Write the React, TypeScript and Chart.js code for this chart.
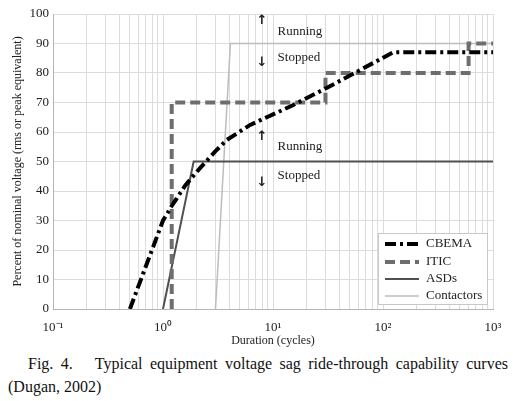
import { useEffect, useRef } from 'react';
import { Chart, registerables } from 'chart.js';
Chart.register(...registerables);

// curves (x in cycles, y in % of nominal)
const cbemaX = [0.5, 1.0, 1.08, 1.2, 1.34, 1.6, 2.2, 3.0, 3.8, 6.2, 15, 31, 62, 123, 1000];
const cbemaY = [0, 30, 32, 35, 37.6, 42, 48, 53.5, 57.3, 62.4, 69, 75, 81, 87, 87];
const iticX = [1.2, 1.2, 30, 30, 600, 600, 1000];
const iticY = [0, 70, 70, 80, 80, 90, 90];
const asdX = [1.0, 1.9, 1000];
const asdY = [0, 50, 50];
const contX = [3.0, 4.1, 1000];
const contY = [0, 90, 90];

const xTicks = [
  0.1, 0.2, 0.3, 0.4, 0.5, 0.6, 0.7, 0.8, 0.9,
  1, 2, 3, 4, 5, 6, 7, 8, 9,
  10, 20, 30, 40, 50, 60, 70, 80, 90,
  100, 200, 300, 400, 500, 600, 700, 800, 900,
  1000,
];
const majorTicks = [0.1, 1, 10, 100, 1000];
const majorLabels = ['10⁻¹', '10⁰', '10¹', '10²', '10³'];

// Running / Stopped notes
const noteX = [7.95, 11, 11, 7.95, 7.95, 11, 11, 7.95];
const noteY = [97.6, 94.2, 85.3, 83.6, 58.3, 55.0, 45.2, 42.9];
const noteText = ['↑', 'Running', 'Stopped', '↓', '↑', 'Running', 'Stopped', '↓'];

const FONT = '"Liberation Serif", "Times New Roman", serif';

const pts = (xs: number[], ys: number[]) => xs.map((x, i) => ({ x, y: ys[i] }));

const notesPlugin = {
  id: 'notes',
  afterDatasetsDraw(chart: any) {
    const { ctx, scales } = chart;
    ctx.save();
    ctx.fillStyle = '#222';
    ctx.textBaseline = 'middle';
    noteText.forEach((t, i) => {
      const px = scales.x.getPixelForValue(noteX[i]);
      const py = scales.y.getPixelForValue(noteY[i]);
      const arrow = t.length === 1;
      ctx.font = arrow ? `bold 13px "DejaVu Sans", sans-serif` : `13px ${FONT}`;
      ctx.textAlign = arrow ? 'center' : 'left';
      ctx.fillText(t, px, py);
    });
    ctx.restore();
  },
};

const legendPlugin = {
  id: 'boxLegend',
  afterDraw(chart: any) {
    const { ctx, chartArea } = chart;
    const w = 109, h = 71;
    const left = chartArea.right - 6 - w;
    const top = chartArea.bottom - 5 - h;
    ctx.save();
    ctx.fillStyle = '#fff';
    ctx.fillRect(left, top, w, h);
    ctx.strokeStyle = '#c8c8c8';
    ctx.lineWidth = 1;
    ctx.strokeRect(left + 0.5, top + 0.5, w, h);
    const rows = [11, 29, 46, 63];
    chart.data.datasets.forEach((ds: any, i: number) => {
      const y = top + rows[i];
      ctx.beginPath();
      ctx.setLineDash(ds.borderDash || []);
      ctx.strokeStyle = ds.borderColor;
      ctx.lineWidth = ds.borderWidth;
      ctx.moveTo(left + 7, y);
      ctx.lineTo(left + 41, y);
      ctx.stroke();
      ctx.setLineDash([]);
      ctx.fillStyle = '#222';
      ctx.font = `13px ${FONT}`;
      ctx.textAlign = 'left';
      ctx.textBaseline = 'middle';
      ctx.fillText(ds.label, left + 48, y);
    });
    ctx.restore();
  },
};

export default function App() {
  const canvasRef = useRef<HTMLCanvasElement>(null);
  const chartRef = useRef<Chart | null>(null);

  useEffect(() => {
    document.body.style.margin = '0';
    document.body.style.background = '#fff';
    if (!canvasRef.current) return;
    chartRef.current?.destroy();
    chartRef.current = new Chart(canvasRef.current, {
      type: 'line',
      data: {
        datasets: [
          { label: 'CBEMA', data: pts(cbemaX, cbemaY), borderColor: '#000', borderWidth: 4, borderDash: [11, 4, 3, 4] },
          { label: 'ITIC', data: pts(iticX, iticY), borderColor: '#6e6e6e', borderWidth: 4, borderDash: [10, 5] },
          { label: 'ASDs', data: pts(asdX, asdY), borderColor: '#505050', borderWidth: 2 },
          { label: 'Contactors', data: pts(contX, contY), borderColor: '#bdbdbd', borderWidth: 1.5 },
        ],
      },
      options: {
        responsive: true,
        maintainAspectRatio: false,
        animation: false,
        layout: { padding: { top: 14, right: 20, left: 0, bottom: 0 } },
        elements: { point: { radius: 0 }, line: { tension: 0, fill: false } },
        plugins: { legend: { display: false }, tooltip: { enabled: false } },
        scales: {
          x: {
            type: 'logarithmic',
            min: 0.1,
            max: 1000,
            afterBuildTicks: (s: any) => { s.ticks = xTicks.map(v => ({ value: v })); },
            afterFit: (s: any) => { s.height = 41; },
            grid: { color: '#dcdcdc', drawTicks: false },
            border: { color: '#b5b5b5' },
            ticks: {
              autoSkip: false,
              maxRotation: 0,
              padding: 11,
              color: '#222',
              font: { family: FONT, size: 13 },
              callback: (v: any) => {
                const i = majorTicks.findIndex(m => Math.abs(m - Number(v)) < 1e-9);
                return i >= 0 ? majorLabels[i] : '';
              },
            },
            title: {
              display: true,
              text: 'Duration (cycles)',
              color: '#222',
              font: { family: FONT, size: 12 },
              padding: { top: 0, bottom: 2 },
            },
          },
          y: {
            min: 0,
            max: 100,
            afterFit: (s: any) => { s.width = 53; },
            grid: { color: '#dcdcdc', drawTicks: false },
            border: { color: '#b5b5b5' },
            ticks: { stepSize: 10, padding: 4, color: '#222', font: { family: FONT, size: 13 } },
            title: {
              display: true,
              text: 'Percent of nominal voltage (rms or peak equivalent)',
              color: '#222',
              font: { family: FONT, size: 12 },
              padding: { top: 11, bottom: 0 },
            },
          },
        },
      },
      plugins: [notesPlugin, legendPlugin],
    } as any);
    return () => chartRef.current?.destroy();
  }, []);

  return (
    <div style={{ width: 513, background: '#fff' }}>
      <div style={{ position: 'relative', width: 513, height: 350 }}>
        <canvas ref={canvasRef} />
      </div>
      <p
        style={{
          margin: 0,
          padding: '2px 5px 0 8px',
          fontFamily: FONT,
          fontSize: 16,
          lineHeight: '23px',
          textAlign: 'justify',
          textIndent: 20,
          color: '#111',
        }}
      >
        Fig. 4.&nbsp;&nbsp; Typical equipment voltage sag ride-through capability curves (Dugan, 2002)
      </p>
    </div>
  );
}
